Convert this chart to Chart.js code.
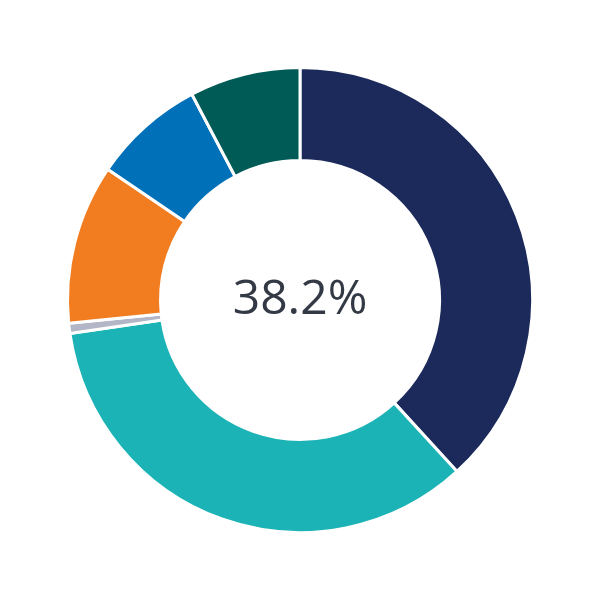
<!DOCTYPE html>
<html>
<head>
<meta charset="utf-8">
<script src="https://cdn.jsdelivr.net/npm/chart.js@4"></script>
<style>
  html, body { margin: 0; background: #fff; }
  #wrap { width: 600px; height: 600px; position: relative; }
</style>
</head>
<body>
<div id="wrap"><canvas id="chart"></canvas></div>
<script>
const labels = ["A", "B", "C", "D", "E", "F"];
const values = [38.2, 34.5, 0.7, 11.1, 7.8, 7.7];
const colors = ["#1b2a5a", "#1bb3b6", "#b2b6c6", "#f27c20", "#0071b9", "#005a55"];
const centerText = "38.2%";

const centerLabel = {
    id: "centerLabel",
    afterDraw(chart) {
        const ctx = chart.ctx;
        const meta = chart.getDatasetMeta(0).data[0];
        ctx.save();
        ctx.font = "48px 'Open Sans', sans-serif";
        ctx.fillStyle = "#333a45";
        ctx.textAlign = "center";
        ctx.textBaseline = "middle";
        ctx.fillText(centerText, meta.x, meta.y);
        ctx.restore();
    }
};

new Chart(document.getElementById("chart"), {
    type: "doughnut",
    data: {
        labels: labels,
        datasets: [{
            data: values,
            backgroundColor: colors,
            borderColor: "#fff",
            borderWidth: 3
        }]
    },
    options: {
        responsive: true,
        maintainAspectRatio: false,
        animation: false,
        cutout: "60%",
        layout: { padding: 66 },
        plugins: { legend: { display: false }, tooltip: { enabled: false } }
    },
    plugins: [centerLabel]
});
</script>
</body>
</html>
